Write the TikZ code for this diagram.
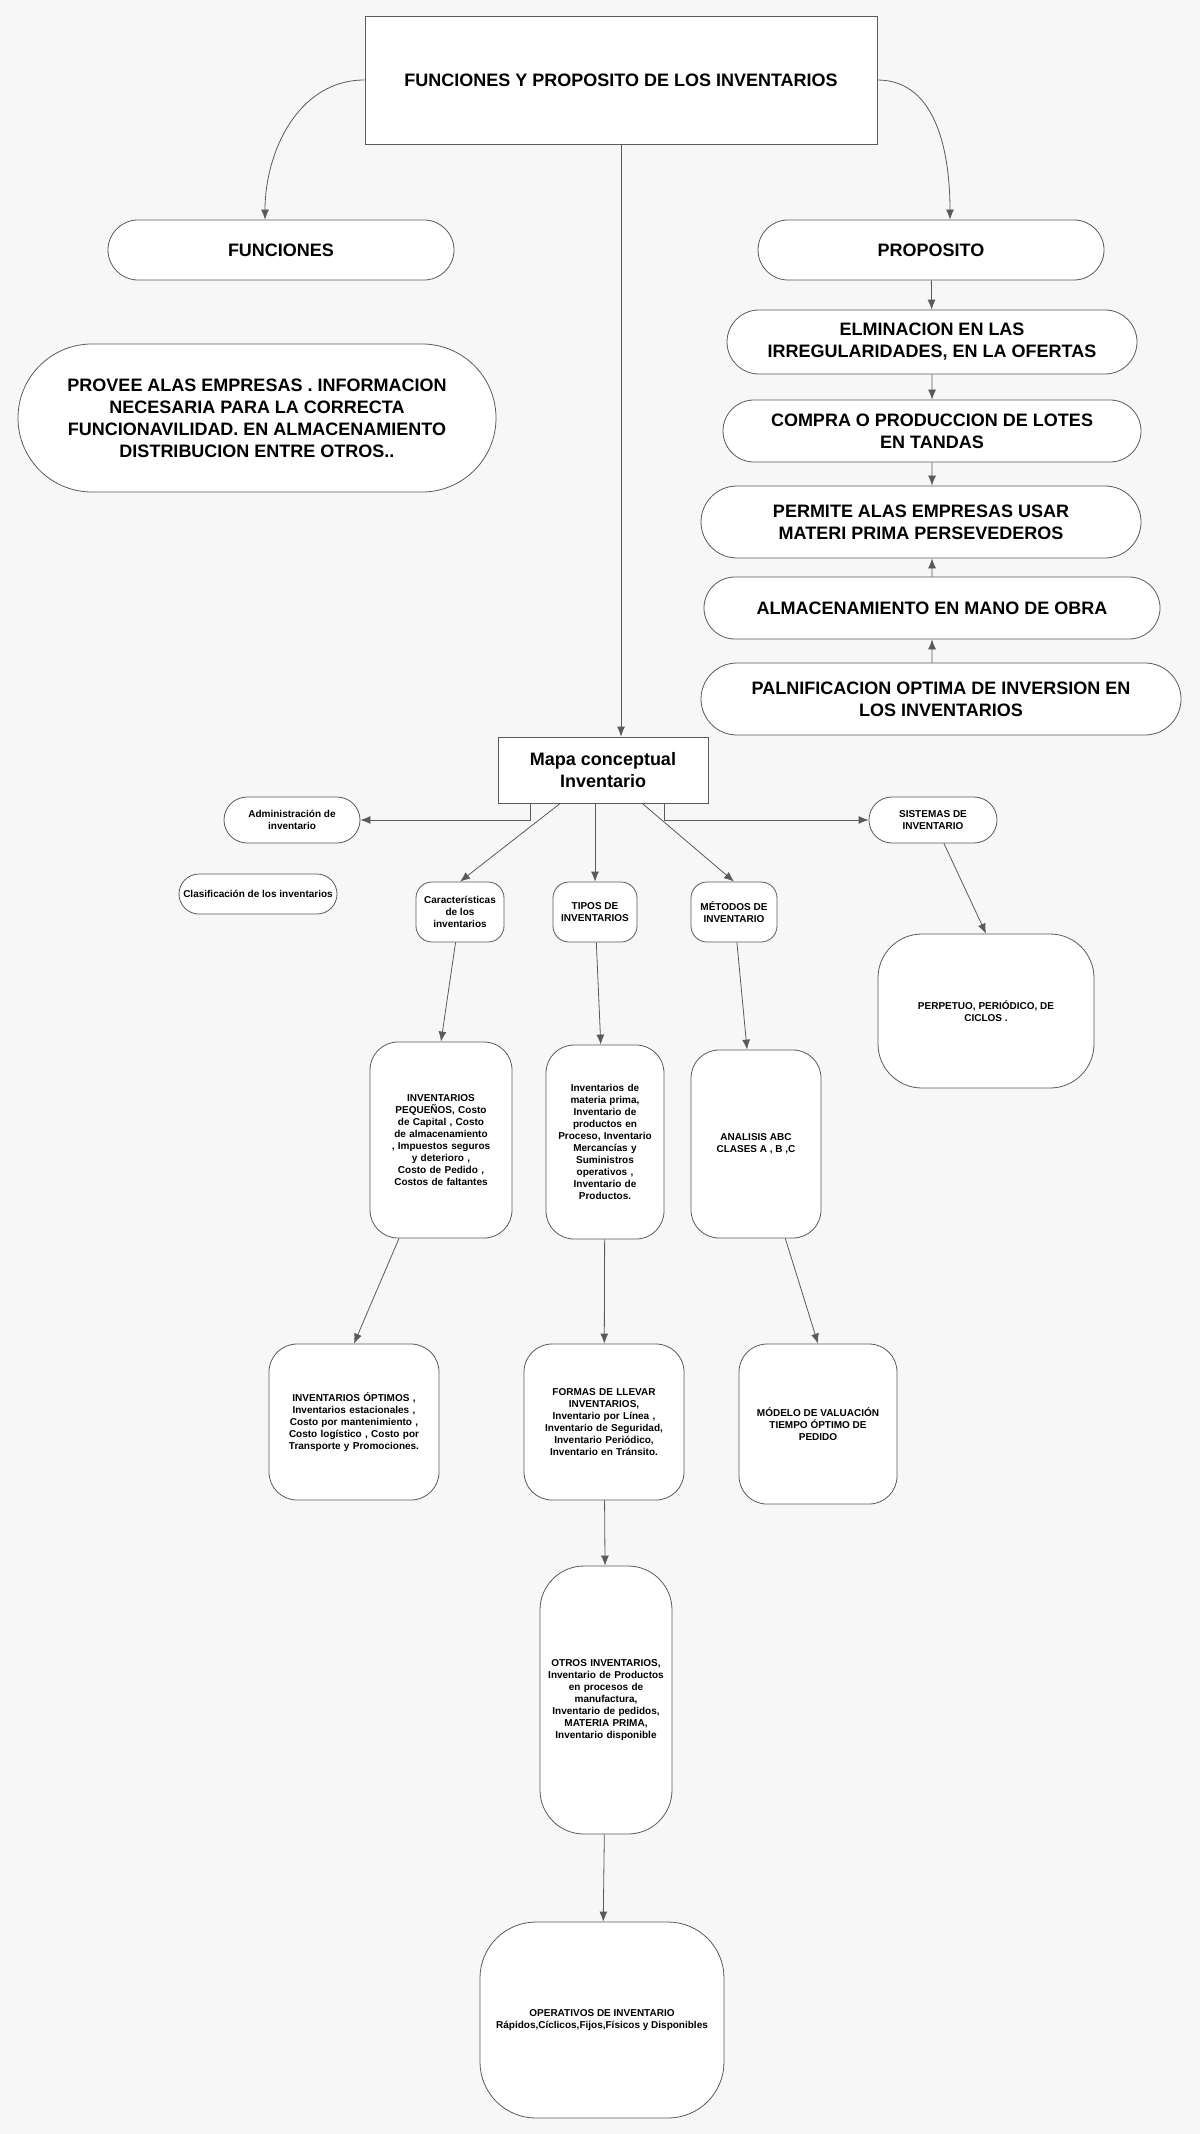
\documentclass[tikz,border=0pt]{standalone}
\usepackage{fontspec}
\setmainfont{Liberation Sans}
\usetikzlibrary{shapes.misc,arrows.meta}
\definecolor{linegray}{HTML}{5A5A5A}
\definecolor{paper}{HTML}{F7F7F7}
\tikzset{
	oval/.style={draw=linegray, fill=white, rounded rectangle, inner sep=1pt, align=center, font=\bfseries},
	barrel/.style={draw=linegray, fill=white, rounded corners=14pt, inner sep=2pt, align=center, font=\bfseries\tiny},
	link/.style={draw=linegray, -{Latex[length=5pt,width=4pt]}}
}
\begin{document}
\hyphenpenalty=10000
\begin{tikzpicture}[x=0.5pt,y=-0.5pt]
	\fill[paper] (0,0) rectangle (1200,2134);
	\useasboundingbox (0,0) rectangle (1200,2134);
	\node	(title) at (621,80) [draw=linegray, fill=white, minimum width=256pt, minimum height=64pt, font=\bfseries\small] {FUNCIONES Y PROPOSITO DE LOS INVENTARIOS};
	\node	(fun) at (281,250) [oval, minimum width=175pt, minimum height=30pt, font=\bfseries\small] {FUNCIONES};
	\node	(pro) at (931,250) [oval, minimum width=175pt, minimum height=30pt, font=\bfseries\small] {PROPOSITO};
	\node	(provee) at (257,418) [oval, minimum width=241pt, minimum height=74pt, font=\bfseries\small] {PROVEE ALAS EMPRESAS .  INFORMACION\\ NECESARIA PARA LA CORRECTA\\ FUNCIONAVILIDAD.  EN  ALMACENAMIENTO\\ DISTRIBUCION ENTRE OTROS..};
	\node	(elim) at (932,342) [oval, minimum width=207pt, minimum height=32pt, font=\bfseries\small] {ELMINACION EN  LAS\\ IRREGULARIDADES, EN LA OFERTAS};
	\node	(compra) at (932,431) [oval, minimum width=211pt, minimum height=31pt, font=\bfseries\small] {COMPRA O PRODUCCION DE LOTES\\ EN TANDAS};
	\node	(permite) at (921,522) [oval, minimum width=222pt, minimum height=36pt, font=\bfseries\small] {PERMITE ALAS EMPRESAS  USAR\\ MATERI PRIMA PERSEVEDEROS};
	\node	(almac) at (932,608) [oval, minimum width=230pt, minimum height=31pt, font=\bfseries\small] {ALMACENAMIENTO EN MANO DE OBRA};
	\node	(plan) at (941,699) [oval, minimum width=242pt, minimum height=36pt, font=\bfseries\small] {PALNIFICACION OPTIMA  DE INVERSION EN\\ LOS INVENTARIOS};
	\node	(mapa) at (603,770) [draw=linegray, fill=white, minimum width=105pt, minimum height=33pt, align=center, font=\bfseries\small] {Mapa conceptual\\ Inventario};
	\node	(admin) at (292,820) [oval, minimum width=70pt, minimum height=23pt, font=\bfseries\tiny] {Administración de\\ inventario};
	\node	(clasif) at (258,894) [oval, minimum width=81pt, minimum height=20pt, font=\bfseries\tiny] {Clasificación de los inventarios};
	\node	(carac) at (460,912) [barrel, rounded corners=8pt, minimum width=44pt, minimum height=30pt] {Características\\ de los\\ inventarios};
	\node	(tipos) at (595,912) [barrel, rounded corners=8pt, minimum width=42pt, minimum height=30pt] {TIPOS DE\\ INVENTARIOS};
	\node	(metodos) at (734,912) [barrel, rounded corners=8pt, minimum width=43pt, minimum height=30pt] {MÉTODOS DE\\ INVENTARIO};
	\node	(sistemas) at (933,820) [oval, minimum width=66pt, minimum height=23pt, font=\bfseries\tiny] {SISTEMAS DE\\ INVENTARIO};
	\node	(perp) at (986,1011) [barrel, rounded corners=22pt, minimum width=108pt, minimum height=77pt] {PERPETUO, PERIÓDICO, DE\\ CICLOS .};
	\node	(peq) at (441,1140) [barrel, minimum width=71pt, minimum height=98pt, text width=62pt] {INVENTARIOS PEQUEÑOS, Costo de Capital , Costo de almacenamiento , Impuestos seguros y deterioro , Costo de Pedido , Costos de faltantes};
	\node	(materia) at (605,1142) [barrel, minimum width=59pt, minimum height=97pt, text width=52pt] {Inventarios de materia prima, Inventario de productos en Proceso, Inventario Mercancías y Suministros operativos , Inventario de Productos.};
	\node	(abc) at (756,1144) [barrel, minimum width=65pt, minimum height=94pt] {ANALISIS ABC\\ CLASES A , B ,C};
	\node	(optimos) at (354,1422) [barrel, minimum width=85pt, minimum height=78pt, text width=76pt] {INVENTARIOS ÓPTIMOS , Inventarios estacionales , Costo por mantenimiento , Costo logístico , Costo por Transporte y Promociones.};
	\node	(formas) at (604,1422) [barrel, minimum width=80pt, minimum height=78pt, text width=72pt] {FORMAS DE LLEVAR INVENTARIOS, Inventario por Línea , Inventario de Seguridad, Inventario Periódico, Inventario en Tránsito.};
	\node	(modelo) at (818,1424) [barrel, minimum width=79pt, minimum height=80pt] {MÓDELO DE VALUACIÓN\\ TIEMPO ÓPTIMO DE\\ PEDIDO};
	\node	(otros) at (606,1700) [barrel, rounded corners=22pt, minimum width=65pt, minimum height=134pt, text width=62pt] {OTROS INVENTARIOS, Inventario de Productos en procesos de manufactura, Inventario de pedidos, MATERIA PRIMA, Inventario disponible};
	\node	(operat) at (602,2020) [barrel, rounded corners=28pt, minimum width=122pt, minimum height=98pt] {OPERATIVOS DE INVENTARIO\\ Rápidos,Cíclicos,Fijos,Físicos y Disponibles};
	\draw[link] (title.west) to[out=180,in=90] (fun.north -| 265,0);
	\draw[link] (title.east) to[out=0,in=90] (pro.north -| 950,0);
	\draw[link] (title.south) -- (mapa.north -| title.south);
	\draw
	(pro) edge[link] (elim)
	(elim) edge[link] (compra)
	(compra) edge[link] (permite.north -| compra.south)
	(almac) edge[link] (permite.south -| almac.north)
	(plan.north -| almac.south) edge[link] (almac)
	(mapa) edge[link] (carac.north)
	(mapa.south -| tipos.north) edge[link] (tipos)
	(mapa) edge[link] (metodos.north)
	(sistemas) edge[link] (perp.north)
	(carac) edge[link] (peq.north)
	(peq) edge[link] (optimos.north)
	(tipos) edge[link] (materia)
	(materia) edge[link] (formas)
	(formas) edge[link] (otros)
	(otros) edge[link] (operat)
	(metodos) edge[link] (abc)
	(abc) edge[link] (modelo.north)
	;
	\draw[link] (mapa.south -| 530,0) |- (admin.east);
	\draw[link] (mapa.south -| 664,0) |- (sistemas.west);
\end{tikzpicture}
\end{document}
